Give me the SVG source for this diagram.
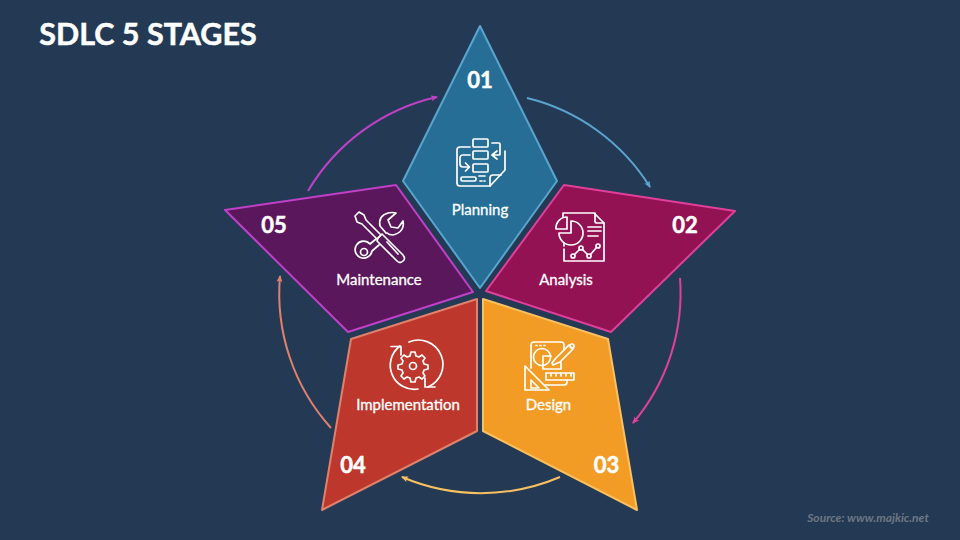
<svg xmlns="http://www.w3.org/2000/svg" width="960" height="540" viewBox="0 0 960 540">
<style>
text{font-family:Lato,"Open Sans",sans-serif;fill:#fff;text-anchor:middle}
.t{font-size:15px;font-weight:400;stroke:#fff;stroke-width:.3px}
.n{font-size:22px;font-weight:700;stroke:#fff;stroke-width:.5px}
.p{stroke-width:2;stroke-linejoin:round}
.i{fill:none;stroke:#fff;stroke-width:1.7;stroke-linejoin:round;stroke-linecap:round}
.c{fill:none;stroke-width:2}
</style>
<defs>
<marker id="a1" markerWidth="8" markerHeight="8" refX="6" refY="3" orient="auto" markerUnits="userSpaceOnUse"><path d="M0 0L7 3L0 6L1.500 3Z" fill="#5aa5cf"/></marker>
<marker id="a2" markerWidth="8" markerHeight="8" refX="6" refY="3" orient="auto" markerUnits="userSpaceOnUse"><path d="M0 0L7 3L0 6L1.500 3Z" fill="#e0409a"/></marker>
<marker id="a3" markerWidth="8" markerHeight="8" refX="6" refY="3" orient="auto" markerUnits="userSpaceOnUse"><path d="M0 0L7 3L0 6L1.500 3Z" fill="#f8c060"/></marker>
<marker id="a4" markerWidth="8" markerHeight="8" refX="6" refY="3" orient="auto" markerUnits="userSpaceOnUse"><path d="M0 0L7 3L0 6L1.500 3Z" fill="#e0806e"/></marker>
<marker id="a5" markerWidth="8" markerHeight="8" refX="6" refY="3" orient="auto" markerUnits="userSpaceOnUse"><path d="M0 0L7 3L0 6L1.500 3Z" fill="#c040c8"/></marker>
</defs>
<rect width="960" height="540" fill="#243a54"/>
<text x="148" y="45" style="font-size:30.500px;font-weight:700;stroke:#fff;stroke-width:.5px">SDLC 5 STAGES</text>
<text x="868" y="522" style="font-size:12px;font-weight:700;font-style:italic;fill:#6d7683">Source: www.majkic.net</text>
<g id="connectors">
<path class="c" stroke="#5aa5cf" marker-end="url(#a1)" d="M527 98A201 201 0 0 1 650 187"/>
<path class="c" stroke="#e0409a" marker-end="url(#a2)" d="M680 278A201 201 0 0 1 633 423"/>
<path class="c" stroke="#f8c060" marker-end="url(#a3)" d="M560 477A201 201 0 0 1 402 477"/>
<path class="c" stroke="#e0806e" marker-end="url(#a4)" d="M331 428A201 201 0 0 1 280 276"/>
<path class="c" stroke="#c040c8" marker-end="url(#a5)" d="M308 191A201 201 0 0 1 437 97"/>
</g>
<g id="node-01">
<path class="p" fill="#266e96" stroke="#5aa5cf" d="M480 26L557 181L480 288L403 181Z"/>
<text class="n" x="480" y="87.500">01</text>
<g class="i">
<rect x="473" y="139" width="15" height="8" rx="1"/><rect x="473" y="151" width="15" height="8" rx="1"/><rect x="473" y="164" width="15" height="8" rx="1"/>
<path d="M470 147H460a3 3 0 0 0-3 3V183a3 3 0 0 0 3 3H490L505 170V151"/>
<path d="M490 186V178a3 3 0 0 1 3-3H501"/>
<path d="M470 155H463a3 3 0 0 0-3 3V164a3 3 0 0 0 3 3H469M465.500 163L469.500 167L465.500 171"/>
<path d="M492 143H499a1 1 0 0 1 1 1V154a1 1 0 0 1-1 1H493M497 151L492 155L497 159"/>
<rect x="461" y="177" width="15" height="4" rx="1.500"/><path d="M479 176H485M480 181H482M484 181H485"/>
</g>
<text class="t" x="480" y="215">Planning</text>
</g>
<g id="node-02">
<path class="p" fill="#921253" stroke="#e0409a" d="M564 185L735 211L611 332L486 291Z"/>
<text class="n" x="685" y="232.500">02</text>
<g class="i">
<path d="M563 217V213H594L604 223V261H564V249M564 246V243"/>
<path d="M595 213V221a2 2 0 0 0 2 2H604"/>
<path d="M571 221A12 12 0 1 1 559 233H571Z"/>
<path d="M567 217V229H556A11 11 0 0 1 567 217Z"/>
<path d="M588 227H601M588 231H601M588 236H598"/>
<circle cx="573" cy="256" r="2"/><circle cx="581" cy="248" r="2"/><circle cx="589" cy="256" r="2"/><circle cx="598" cy="246" r="2"/>
<path d="M574.500 254.500L579.500 249.500M582.500 249.500L587.500 254.500M590.500 254.500L596.500 247.500"/>
</g>
<text class="t" x="566" y="285">Analysis</text>
</g>
<g id="node-03">
<path class="p" fill="#f39c25" stroke="#f8c060" d="M483 299L608 339L637 510L483 431Z"/>
<text class="n" x="606.500" y="472.500">03</text>
<g class="i">
<path d="M531 368V345a3 3 0 0 1 3-3H561a3 3 0 0 1 3 3V350"/><path d="M536 345.500H537M540 345.500H541M544 345.500H545"/>
<circle cx="542" cy="357" r="8.500"/><path d="M543 356H551M561 362V369H543V356"/>
<path d="M552 363L556 358L569 345L573 349L560 362L553 365Z"/><circle cx="572" cy="346" r="2"/>
<path d="M525 366L549 390H525ZM531 380L539 388H531Z"/>
<path d="M546 373H574V380H546ZM551 373V376M556 373V376M561 373V376M566 373V376M571 373V376"/>
<path d="M545 385H564a3 3 0 0 0 3-3V380"/>
</g>
<text class="t" x="548.500" y="410">Design</text>
</g>
<g id="node-04">
<path class="p" fill="#bd372c" stroke="#e0806e" d="M477 299L351 339L322 510L477 431Z"/>
<text class="n" x="353" y="472.500">04</text>
<g class="i">
<path d="M400 346A24 24 0 0 0 418 389"/>
<path d="M391 346.500H401V355"/>
<path d="M409 342A24 24 0 0 1 428 387"/>
<path d="M425 378V387H435"/>
<path d="M411 352h4l1 4l3 1l3-2l3 3l-2 3l1 3l4 1v4l-4 1l-1 3l2 3l-3 3l-3-2l-3 1l-1 4h-4l-1-4l-3-1l-3 2l-3-3l2-3l-1-3l-4-1v-4l4-1l1-3l-2-3l3-3l3 2l3-1Z"/>
<circle cx="413" cy="366" r="3.500"/>
</g>
<text class="t" x="408" y="410">Implementation</text>
</g>
<g id="node-05">
<path class="p" fill="#5a175c" stroke="#c040c8" d="M225 210L396 185L473 292L348 332Z"/>
<text class="n" x="274" y="232.500">05</text>
<g class="i">
<path d="M355 216L359 212L364 215L366 220L381 235L377 239L362 224L357 222Z"/>
<path d="M378 238L382 234L403 255Q406 259 403 261Q400 264 397 261L377 241Z"/>
<path d="M386 233L380 226Q378 216 388 213Q392 212 396 213L388 220L391 227L398 228L403 221Q405 232 393 235Q389 235 387 233"/>
<path d="M376 239L370 244A8.500 8.500 0 1 0 372 251L379 245"/>
<circle cx="364" cy="252" r="3.500"/>
<path d="M387 242L398 254"/>
</g>
<text class="t" x="379" y="285">Maintenance</text>
</g>
</svg>
